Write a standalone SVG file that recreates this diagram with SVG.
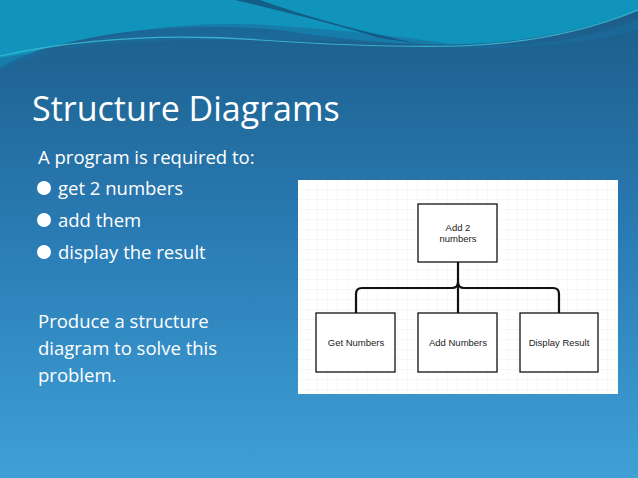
<svg xmlns="http://www.w3.org/2000/svg" width="638" height="478" viewBox="0 0 638 478">
<defs>
<linearGradient id="bg" x1="0" y1="0" x2="0" y2="1">
<stop offset="0" stop-color="#1b5c88"/><stop offset="0.5" stop-color="#2a7cb5"/><stop offset="1" stop-color="#3fa0d6"/>
</linearGradient>
<pattern id="grid" width="10" height="10" patternUnits="userSpaceOnUse" x="298" y="180">
<path d="M10 0V10H0" fill="none" stroke="#e3e6ec" stroke-width="0.6"/>
</pattern>
<style>
.t{font-family:"Open Sans","Liberation Sans",sans-serif;fill:#fff}
.b{fill:#fff;stroke:#111;stroke-width:1.3}
.l{font-family:"Liberation Sans",Arial,sans-serif;font-size:9.5px;fill:#222;text-anchor:middle}
.c{fill:none;stroke:#111;stroke-width:2.2}
</style>
</defs>
<rect width="638" height="478" fill="url(#bg)"/>
<path d="M0 0H638V10Q560 40 470 44Q380 46 280 30Q150 18 40 50Q15 58 0 68Z" fill="#0f9dc4" opacity="0.85"/>
<path d="M0 70Q120 20 250 24Q360 30 460 45Q560 50 638 20V0H638V30Q560 50 460 48Q360 40 250 40Q120 38 0 58Z" fill="#1a6e9e" opacity="0.6"/>
<path d="M235 0Q320 20 380 38L420 44Q330 25 260 0Z" fill="#14507a" opacity="0.8"/>
<path d="M0 56Q120 30 260 40Q380 48 460 46Q560 42 638 10" fill="none" stroke="#3ec3d8" stroke-width="1.2" opacity="0.8"/>
<text class="t" x="32" y="121" font-size="34">Structure Diagrams</text>
<g class="t" font-size="18.5">
<text x="38" y="164">A program is required to:</text>
<circle cx="44" cy="188" r="7" fill="#fff"/><text x="58" y="195">get 2 numbers</text>
<circle cx="44" cy="220" r="7" fill="#fff"/><text x="58" y="227">add them</text>
<circle cx="44" cy="252" r="7" fill="#fff"/><text x="58" y="259">display the result</text>
<text x="38" y="328">Produce a structure</text>
<text x="38" y="355">diagram to solve this</text>
<text x="38" y="382">problem.</text>
</g>
<rect x="298" y="180" width="320" height="214" fill="#fff"/>
<rect x="298" y="180" width="320" height="214" fill="url(#grid)"/>
<g id="connectors">
<path class="c" d="M458 262V282Q458 288 452 288H362Q356 288 356 294V313"/>
<path class="c" d="M458 282Q458 288 464 288H553Q559 288 559 294V313"/>
<path class="c" d="M458 282V313"/>
</g>
<g id="top"><rect class="b" x="418" y="204" width="79" height="58"/><text class="l" x="458" y="231">Add 2</text><text class="l" x="458" y="242">numbers</text></g>
<g id="get"><rect class="b" x="316" y="313" width="79" height="59"/><text class="l" x="356" y="346">Get Numbers</text></g>
<g id="add"><rect class="b" x="418" y="313" width="79" height="59"/><text class="l" x="458" y="346">Add Numbers</text></g>
<g id="disp"><rect class="b" x="520" y="313" width="78" height="59"/><text class="l" x="559" y="346">Display Result</text></g>
</svg>
